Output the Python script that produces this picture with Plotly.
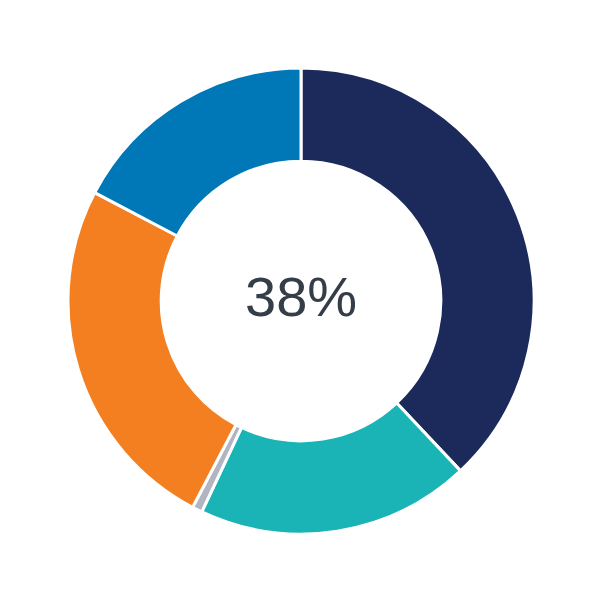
import plotly.graph_objects as go

# slices, clockwise from 12 o'clock
labels = ['Navy', 'Teal', 'Gray', 'Orange', 'Blue']
values = [38.0, 19.0, 0.7, 25.0, 17.3]
colors = ['#1b2a5b', '#1ab3b6', '#b1b5c2', '#f47f20', '#0077b6']
center_text = '38%'

fig = go.Figure(go.Pie(
    labels=labels,
    values=values,
    hole=0.6,
    sort=False,
    direction='clockwise',
    rotation=0,
    textinfo='none',
    hoverinfo='label+percent',
    marker=dict(colors=colors, line=dict(color='white', width=3)),
    showlegend=False,
))

fig.add_annotation(text=center_text, x=0.5, y=0.5, xref='paper', yref='paper',
                   showarrow=False, yshift=5,
                   font=dict(family='Liberation Sans, Arial', size=56, color='#343d48'))

# page body has an 8px margin, so shift the pie up/left to sit at 300,300
fig.update_layout(
    width=600, height=600,
    margin=dict(l=60, r=74, t=60, b=74),
    paper_bgcolor='white',
    plot_bgcolor='white',
)

fig.write_html('out.html')
